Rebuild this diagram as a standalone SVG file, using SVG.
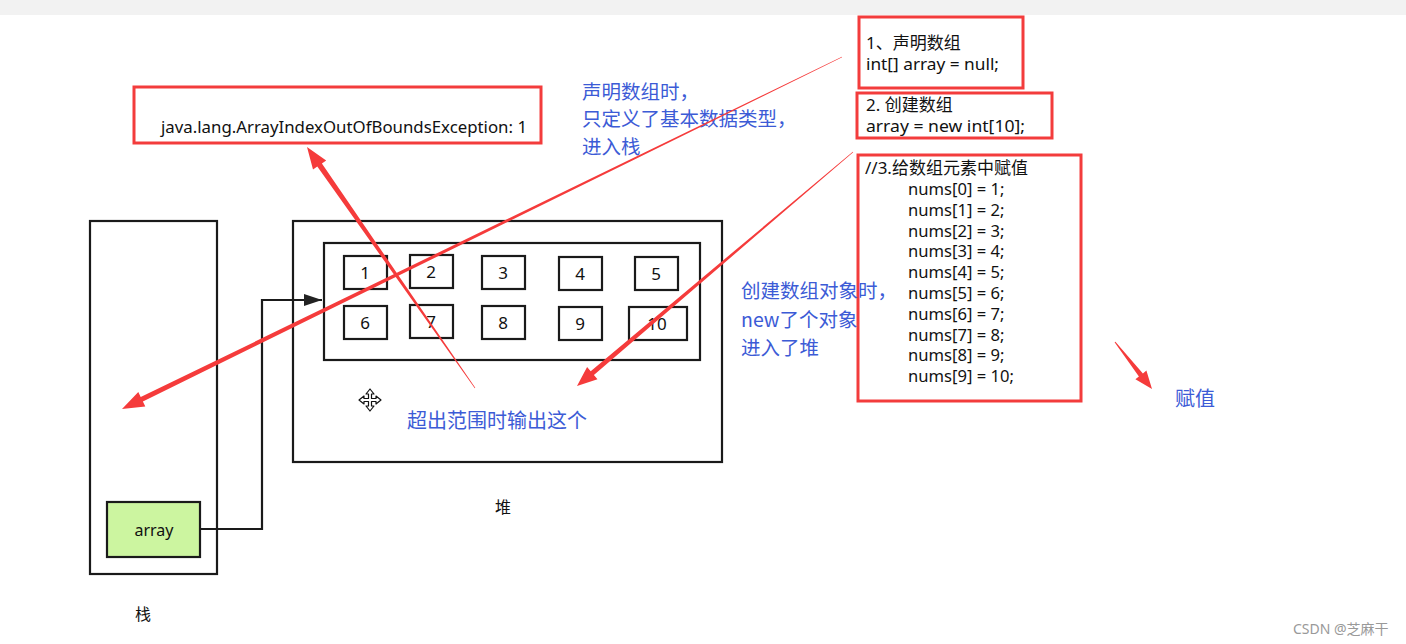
<svg xmlns="http://www.w3.org/2000/svg" width="1406" height="644" viewBox="0 0 1406 644">
<defs>
<style>
.bx{fill:#fff;stroke:#1a1a1a;stroke-width:2.2}
.cell{fill:#fff;stroke:#1a1a1a;stroke-width:2.2}
.rb{fill:none;stroke:#f33c3c;stroke-width:3}
.t{font-family:"Noto Sans","Noto Sans CJK SC",sans-serif;fill:#111;font-size:16px}
.t17{font-family:"Noto Sans","Noto Sans CJK SC",sans-serif;fill:#111;font-size:17px}
.nm{font-family:"Noto Sans","Noto Sans CJK SC",sans-serif;fill:#111;font-size:16.6px}
.num{font-family:"Noto Sans","Noto Sans CJK SC",sans-serif;fill:#111;font-size:17px;text-anchor:middle}
.bl{font-family:"Noto Sans CJK SC","Noto Sans",sans-serif;fill:#3c5bd6;font-size:19.5px}
.ra{fill:#f53b3b;stroke:none}
</style>
<marker id="ah" viewBox="0 0 18 12" refX="18" refY="6" markerWidth="18" markerHeight="12" markerUnits="userSpaceOnUse" orient="auto">
<path d="M0,0 L18,6 L0,12 z" fill="#222"/>
</marker>
</defs>
<rect x="0" y="0" width="1406" height="644" fill="#fff"/>
<rect x="0" y="0" width="1406" height="15" fill="#f2f2f2"/>

<g id="stack">
<rect class="bx" x="90" y="221" width="127" height="353"/>
<text class="t" x="135" y="620">栈</text>
</g>
<g id="array">
<rect x="107" y="502" width="93" height="55" fill="#ccf5a0" stroke="#1a1a1a" stroke-width="2.2"/>
<text class="num" x="154" y="536" style="font-size:16px">array</text>
</g>
<g id="heap">
<rect class="bx" x="293" y="221" width="429" height="241"/>
<rect class="bx" x="324" y="243" width="376" height="117"/>
<text class="t" x="495" y="513">堆</text>
</g>
<g id="cells">
<rect class="cell" x="344" y="256" width="43" height="33"/><text class="num" x="365" y="279">1</text>
<rect class="cell" x="410" y="255" width="43" height="33"/><text class="num" x="431" y="278">2</text>
<rect class="cell" x="482" y="256" width="43" height="33"/><text class="num" x="503" y="279">3</text>
<rect class="cell" x="559" y="257" width="43" height="33"/><text class="num" x="580" y="280">4</text>
<rect class="cell" x="635" y="257" width="43" height="33"/><text class="num" x="656" y="280">5</text>
<rect class="cell" x="344" y="306" width="43" height="33"/><text class="num" x="365" y="329">6</text>
<rect class="cell" x="410" y="305" width="43" height="33"/><text class="num" x="431" y="328">7</text>
<rect class="cell" x="482" y="306" width="43" height="33"/><text class="num" x="503" y="329">8</text>
<rect class="cell" x="559" y="307" width="43" height="33"/><text class="num" x="580" y="330">9</text>
<rect class="cell" x="629" y="307" width="58" height="33"/><text class="num" x="657" y="330">10</text>
</g>

<g id="exception">
<rect class="rb" x="134" y="87" width="407" height="56"/>
<text class="t" x="161" y="133" textLength="366" lengthAdjust="spacingAndGlyphs">java.lang.ArrayIndexOutOfBoundsException: 1</text>
</g>
<g id="step1">
<rect class="rb" x="859" y="17" width="164" height="71"/>
<text class="t17" x="866" y="49">1、声明数组</text>
<text class="t17" x="866" y="70" textLength="133" lengthAdjust="spacingAndGlyphs">int[] array = null;</text>
</g>
<g id="step2">
<rect class="rb" x="857" y="93" width="195" height="45"/>
<text class="t17" x="866" y="111">2. 创建数组</text>
<text class="t17" x="866" y="132" textLength="159" lengthAdjust="spacingAndGlyphs">array = new int[10];</text>
</g>
<g id="step3">
<rect class="rb" x="858" y="155" width="223" height="246"/>
<text class="t17" x="865" y="174">//3.给数组元素中赋值</text>
<text class="nm" x="908" y="195">nums[0] = 1;</text>
<text class="nm" x="908" y="215.8">nums[1] = 2;</text>
<text class="nm" x="908" y="236.6">nums[2] = 3;</text>
<text class="nm" x="908" y="257.4">nums[3] = 4;</text>
<text class="nm" x="908" y="278.2">nums[4] = 5;</text>
<text class="nm" x="908" y="299">nums[5] = 6;</text>
<text class="nm" x="908" y="319.8">nums[6] = 7;</text>
<text class="nm" x="908" y="340.6">nums[7] = 8;</text>
<text class="nm" x="908" y="361.4">nums[8] = 9;</text>
<text class="nm" x="908" y="382.2">nums[9] = 10;</text>
</g>

<g id="notes">
<text class="bl" x="582" y="99">声明数组时，</text>
<text class="bl" x="582" y="126">只定义了基本数据类型，</text>
<text class="bl" x="582" y="154">进入栈</text>
<text class="bl" x="741" y="298">创建数组对象时，</text>
<text class="bl" x="741" y="327">new了个对象</text>
<text class="bl" x="741" y="355">进入了堆</text>
<text class="bl" x="407" y="428" style="font-size:20px">超出范围时输出这个</text>
<text class="bl" x="1175" y="406" style="font-size:20px">赋值</text>
<text x="1293" y="634" style="font-family:'Noto Sans','Noto Sans CJK SC',sans-serif;font-size:14px;fill:#999">CSDN @芝麻干</text>
</g>

<g id="cursor" transform="translate(370,400)">
<path d="M0,-11 L4,-6 L1.5,-6 L1.5,-1.5 L6,-1.5 L6,-4 L11,0 L6,4 L6,1.5 L1.5,1.5 L1.5,6 L4,6 L0,11 L-4,6 L-1.5,6 L-1.5,1.5 L-6,1.5 L-6,4 L-11,0 L-6,-4 L-6,-1.5 L-1.5,-1.5 L-1.5,-6 L-4,-6 z" fill="#fff" stroke="#111" stroke-width="1.2" stroke-linejoin="round"/>
</g>

<g id="connectors">
<polyline points="200,529 262,529 262,300 322,300" fill="none" stroke="#1a1a1a" stroke-width="2.2" marker-end="url(#ah)"/>
<path class="ra" d="M842.13,57.27 L841.87,56.73 L140.7,397.1 L138.3,392.1 L122,409 L145.3,406.5 L142.9,401.5 Z"/>
<path class="ra" d="M853.2,152.2 L852.8,151.8 L590.7,371.2 L587.1,367.0 L577,386 L597.5,379.2 L593.9,375.0 Z"/>
<path class="ra" d="M474.75,388.17 L475.25,387.83 L321.9,163.4 L326.2,160.4 L307,147 L313.0,169.6 L317.3,166.6 Z"/>
<path class="ra" d="M1115.4,341.7 L1114.6,342.3 L1138.9,376.4 L1135.4,379.2 L1152,389 L1146.4,370.6 L1142.9,373.4 Z"/>
</g>
</svg>
